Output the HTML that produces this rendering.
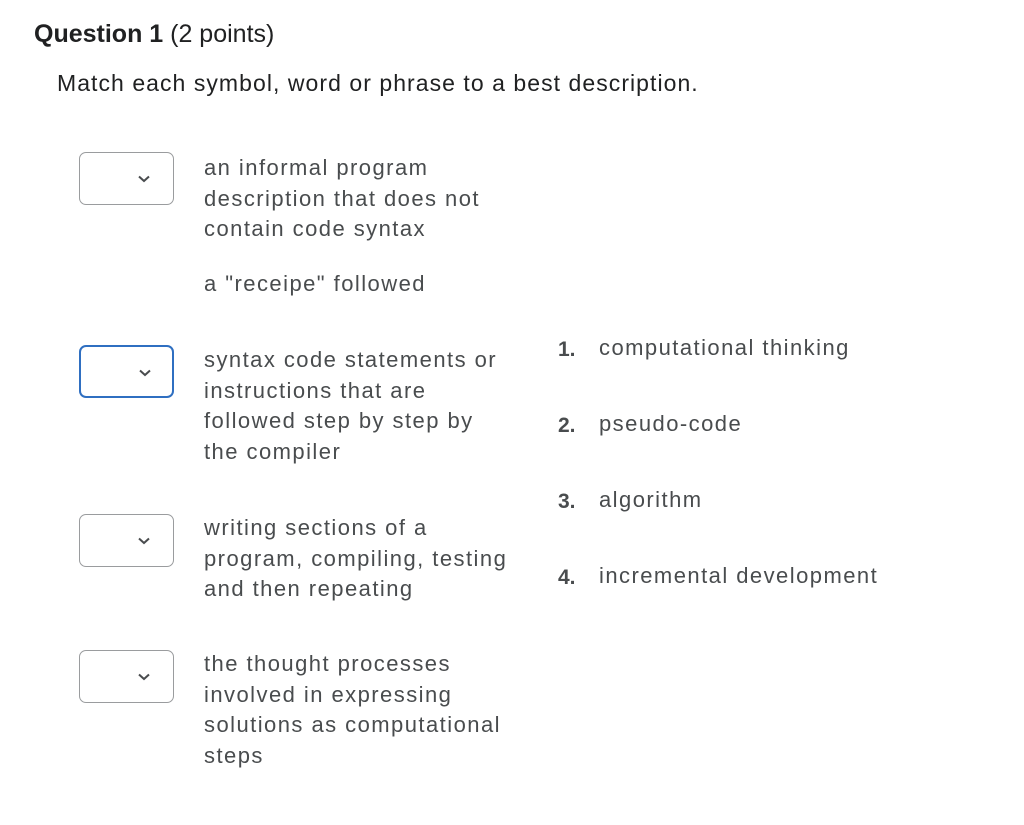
<!DOCTYPE html>
<html><head><style>
body{margin:0;width:1024px;height:825px;background:#fff;font-family:"Liberation Sans",sans-serif;color:#494c4e;position:relative}
.a{position:absolute;white-space:nowrap}
.t{font-size:22px;line-height:30.5px;color:#494c4e;letter-spacing:1.45px}
.b{position:absolute;left:79px;width:93px;height:51px;border:1px solid #9a9c9e;border-radius:7px;box-sizing:content-box}
.b.f{border:2px solid #2f6fc1;width:91px;height:49px}
.b svg{position:absolute;left:58px;top:22px}
.n{font-weight:bold;font-size:21px;letter-spacing:0}
</style></head><body>
<div class="a" style="left:34px;top:20px;font-size:25px;color:#202122"><b>Question 1</b> (2 points)</div>
<div class="a" style="left:57px;top:70px;font-size:23px;color:#202122;letter-spacing:1.05px">Match each symbol, word or phrase to a best description.</div>

<div class="b" style="top:152px"><svg width="12" height="8"><path d="M1 1.5L6 6L11 1.5" stroke="#494c4e" stroke-width="2" fill="none"/></svg></div>
<div class="a t" style="left:204px;top:153px">an informal program<br>description that does not<br>contain code syntax</div>
<div class="a t" style="left:204px;top:269px">a "receipe" followed</div>

<div class="b f" style="top:345px"><svg width="12" height="8"><path d="M1 1.5L6 6L11 1.5" stroke="#494c4e" stroke-width="2" fill="none"/></svg></div>
<div class="a t" style="left:204px;top:345px">syntax code statements or<br>instructions that are<br>followed step by step by<br>the compiler</div>

<div class="b" style="top:514px"><svg width="12" height="8"><path d="M1 1.5L6 6L11 1.5" stroke="#494c4e" stroke-width="2" fill="none"/></svg></div>
<div class="a t" style="left:204px;top:513px">writing sections of a<br>program, compiling, testing<br>and then repeating</div>

<div class="b" style="top:650px"><svg width="12" height="8"><path d="M1 1.5L6 6L11 1.5" stroke="#494c4e" stroke-width="2" fill="none"/></svg></div>
<div class="a t" style="left:204px;top:649px">the thought processes<br>involved in expressing<br>solutions as computational<br>steps</div>

<div class="a t" style="left:558px;top:334px"><span class="n">1.</span></div><div class="a t" style="left:599px;top:333px">computational thinking</div>
<div class="a t" style="left:558px;top:410px"><span class="n">2.</span></div><div class="a t" style="left:599px;top:409px">pseudo-code</div>
<div class="a t" style="left:558px;top:486px"><span class="n">3.</span></div><div class="a t" style="left:599px;top:485px">algorithm</div>
<div class="a t" style="left:558px;top:562px"><span class="n">4.</span></div><div class="a t" style="left:599px;top:561px">incremental development</div>
</body></html>
